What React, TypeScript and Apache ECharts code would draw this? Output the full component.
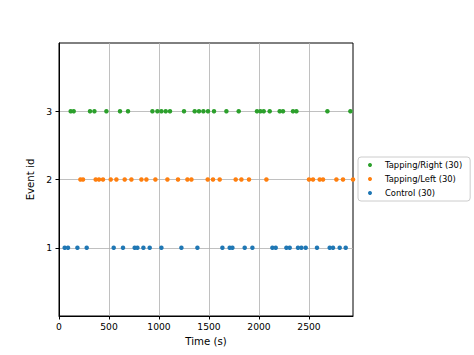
import React, { useEffect, useRef } from "react";
import * as echarts from "echarts";

const seriesNames = ["Tapping/Right (30)", "Tapping/Left (30)", "Control (30)"];
const eventIds = [3, 2, 1];
const seriesColors = ["#2ca02c", "#ff7f0e", "#1f77b4"];

const rightTimes = [117, 147, 310, 354, 474, 610, 690, 934, 984, 1024, 1067, 1110, 1250, 1357, 1400, 1444, 1490, 1550, 1674, 1797, 1980, 2014, 2047, 2107, 2207, 2240, 2340, 2374, 2684, 2914];
const leftTimes = [214, 240, 367, 400, 440, 517, 574, 657, 724, 824, 874, 964, 1084, 1190, 1284, 1324, 1487, 1540, 1607, 1767, 1824, 1900, 2074, 2500, 2540, 2607, 2640, 2774, 2840, 2940];
const controlTimes = [57, 90, 184, 277, 547, 640, 757, 784, 844, 907, 1024, 1224, 1384, 1634, 1707, 1734, 1857, 1934, 2134, 2167, 2274, 2307, 2390, 2424, 2467, 2580, 2707, 2740, 2807, 2867];

const xTicks = [0, 500, 1000, 1500, 2000, 2500];
const yTicks = [1, 2, 3];
const xMax = 2940;
const yMax = 4;

export default function App() {
  const ref = useRef<HTMLDivElement>(null);
  useEffect(() => {
    if (!ref.current) return;
    const chart = echarts.init(ref.current, undefined, { renderer: "svg" });
    const times = [rightTimes, leftTimes, controlTimes];
    const font = "DejaVu Sans";
    chart.setOption({
      animation: false,
      backgroundColor: "#ffffff",
      grid: {
        left: 59,
        top: 43,
        width: 294,
        height: 273,
        show: true,
        borderColor: "#000",
        borderWidth: 1,
        backgroundColor: "transparent",
      },
      legend: {
        data: seriesNames,
        orient: "vertical",
        align: "left",
        left: 358,
        top: 157,
        padding: [3, 8, 3, 10],
        itemWidth: 4,
        itemHeight: 4,
        itemGap: 4,
        icon: "circle",
        borderColor: "#cccccc",
        borderWidth: 1,
        borderRadius: 3,
        backgroundColor: "rgba(255,255,255,0.8)",
        itemStyle: { opacity: 1 },
        textStyle: { fontFamily: font, fontSize: 8.4, color: "#000", lineHeight: 10, padding: [0, 0, 0, 8] },
      },
      xAxis: {
        type: "value",
        min: 0,
        max: xMax,
        interval: 500,
        name: "Time (s)",
        nameLocation: "middle",
        nameGap: 20,
        nameTextStyle: { fontFamily: font, fontSize: 10.2, color: "#000" },
        axisLine: { show: true, lineStyle: { color: "#000", width: 1 } },
        axisTick: { show: true, length: 3.5, inside: false, customValues: xTicks, lineStyle: { color: "#000" } },
        axisLabel: {
          fontFamily: font,
          fontSize: 9.2,
          color: "#000",
          margin: 6,
          customValues: xTicks,
          formatter: (v: number) => String(v),
        },
        splitLine: { show: true, lineStyle: { color: "#b0b0b0", width: 0.8 } },
      },
      yAxis: {
        type: "value",
        min: 0,
        max: yMax,
        interval: 1,
        name: "Event id",
        nameLocation: "middle",
        nameGap: 23,
        nameTextStyle: { fontFamily: font, fontSize: 10.2, color: "#000" },
        axisLine: { show: true, lineStyle: { color: "#000", width: 1 } },
        axisTick: { show: true, length: 3.5, inside: false, customValues: yTicks, lineStyle: { color: "#000" } },
        axisLabel: {
          fontFamily: font,
          fontSize: 9.2,
          color: "#000",
          margin: 7,
          customValues: yTicks,
          formatter: (v: number) => String(v),
        },
        splitLine: { show: true, lineStyle: { color: "#b0b0b0", width: 0.8 } },
      },
      series: seriesNames.map((name, i) => ({
        name,
        type: "scatter",
        symbol: "circle",
        symbolSize: 4.5,
        itemStyle: { color: seriesColors[i], opacity: 1 },
        data: times[i].map((t) => [t, eventIds[i]]),
      })),
    });
    return () => chart.dispose();
  }, []);
  return <div ref={ref} style={{ position: "absolute", left: 0, top: 0, width: 474, height: 355 }} />;
}
